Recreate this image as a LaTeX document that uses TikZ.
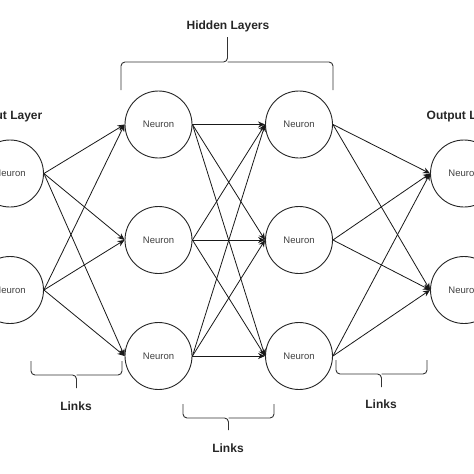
\documentclass[tikz,border=0pt]{standalone}
\usepackage{fontspec}
\setmainfont{Liberation Sans}
\usetikzlibrary{arrows.meta}
\begin{document}
\begin{tikzpicture}[x=1pt,y=-1pt,
  neuron/.style={draw=black!85,circle,minimum size=67pt,inner sep=0pt,line width=0.9pt,
    font=\fontsize{9.5}{11}\selectfont,text=black!75},
  lbl/.style={font=\bfseries\fontsize{12}{14}\selectfont,text=black!85},
  link/.style={draw=black!90,line width=0.8pt,-{Stealth[length=7pt,width=6pt]}},
  brace/.style={draw=black!80,line width=0.9pt,rounded corners=4pt}]
\useasboundingbox (0,0) rectangle (474,474);
\fill[white] (0,0) rectangle (474,474);
% nodes
\node[neuron] (i1) at (10,173.5) {Neuron};
\node[neuron] (i2) at (10,290) {Neuron};
\node[neuron] (a1) at (158.5,124.5) {Neuron};
\node[neuron] (a2) at (158.5,240) {Neuron};
\node[neuron] (a3) at (158.5,356) {Neuron};
\node[neuron] (b1) at (299,124.5) {Neuron};
\node[neuron] (b2) at (299,240) {Neuron};
\node[neuron] (b3) at (299,356) {Neuron};
\node[neuron] (o1) at (464,173.5) {Neuron};
\node[neuron] (o2) at (464,290) {Neuron};
% labels
\node[lbl] (tin) at (10,117) {Input Layer};
\node[lbl] (tout) at (464,117) {Output Layer};
\node[lbl] (thid) at (228,26) {Hidden Layers};
\node[lbl] (tl1) at (76,406) {Links};
\node[lbl] (tl2) at (228,448) {Links};
\node[lbl] (tl3) at (381,404) {Links};
% links
\foreach \s in {i1,i2}{\foreach \t in {a1,a2,a3}{\draw[link] (\s.east) -- (\t.west);}}
\foreach \s in {a1,a2,a3}{\foreach \t in {b1,b2,b3}{\draw[link] (\s.east) -- (\t.west);}}
\foreach \s in {b1,b2,b3}{\foreach \t in {o1,o2}{\draw[link] (\s.east) -- (\t.west);}}
% braces
\coordinate (h0) at (121,90); \coordinate (h1) at (333,90); \coordinate (ht) at (227.5,37);
\draw[brace] (h0) -- (121,62) -- (227.5,62) -- (ht);
\draw[brace] (h1) -- (333,62) -- (227.5,62);
\coordinate (l0) at (31,361); \coordinate (l1) at (122,361); \coordinate (lt) at (76.5,388);
\draw[brace] (l0) -- (31,375) -- (76.5,375) -- (lt);
\draw[brace] (l1) -- (122,375) -- (76.5,375);
\coordinate (m0) at (183,404); \coordinate (m1) at (274,404); \coordinate (mt) at (228.5,430);
\draw[brace] (m0) -- (183,418) -- (228.5,418) -- (mt);
\draw[brace] (m1) -- (274,418) -- (228.5,418);
\coordinate (r0) at (336,360); \coordinate (r1) at (427,360); \coordinate (rt) at (381.5,387);
\draw[brace] (r0) -- (336,374) -- (381.5,374) -- (rt);
\draw[brace] (r1) -- (427,374) -- (381.5,374);
\end{tikzpicture}
\end{document}
